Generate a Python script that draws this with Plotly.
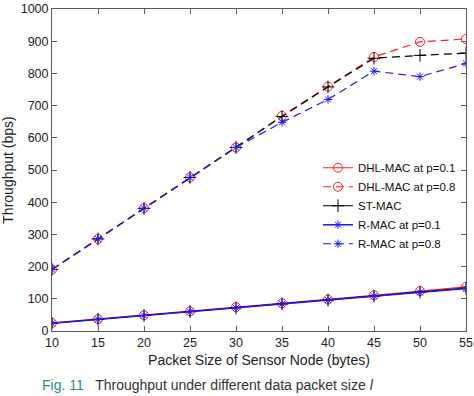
import plotly.graph_objects as go

x = [10, 15, 20, 25, 30, 35, 40, 45, 50, 55]

dhl_p01 = [25, 37, 49, 61, 74, 86, 98, 111, 124, 137]
dhl_p08 = [191, 286, 381, 477, 570, 668, 759, 851, 898, 907]
st_low = [24, 36, 48, 60, 72, 84, 96, 108, 121, 133]
st_high = [191, 286, 381, 477, 570, 666, 758, 847, 856, 863]
rmac_p01 = [24, 36, 48, 60, 72, 84, 96, 108, 120, 132]
rmac_p08 = [191, 286, 381, 477, 570, 648, 719, 807, 790, 831]

x_ticks = [10, 15, 20, 25, 30, 35, 40, 45, 50, 55]
y_ticks = [0, 100, 200, 300, 400, 500, 600, 700, 800, 900, 1000]

RED = "#ff2020"
BLUE = "#1a1aff"
BLACK = "#000000"
FONT = "Liberation Sans, Arial, Helvetica"
DASH = "8px,5px"

fig = go.Figure()

def add(y, name, color, dash, symbol, size, show=True, width=1.2):
    fig.add_trace(go.Scatter(
        x=x, y=y, name=name, mode="lines+markers",
        line=dict(color=color, dash=dash, width=width),
        marker=dict(symbol=symbol, size=size, color=color,
                    line=dict(color=color, width=1)),
        showlegend=show,
    ))

add(dhl_p01, "DHL-MAC at p=0.1", RED, "solid", "circle-open", 9)
add(dhl_p08, "DHL-MAC at p=0.8", RED, DASH, "circle-open", 9)
add(st_low, "ST-MAC", BLACK, "solid", "cross-thin-open", 9)
add(st_high, "ST-MAC", BLACK, DASH, "cross-thin-open", 9, show=False)
add(rmac_p01, "R-MAC at p=0.1", BLUE, "solid", "asterisk-open", 7, width=1.6)
add(rmac_p08, "R-MAC at p=0.8", BLUE, DASH, "asterisk-open", 7)

axis_common = dict(
    showline=True, linecolor="#5a5a5a", linewidth=1, mirror="ticks",
    ticks="inside", ticklen=5, tickcolor="#5a5a5a", showgrid=False,
    zeroline=False, automargin=False,
    tickfont=dict(family=FONT, size=12.5, color="#222222"),
)

fig.update_layout(
    width=474, height=396,
    margin=dict(l=52, r=8, t=9, b=65, autoexpand=False),
    paper_bgcolor="white", plot_bgcolor="white",
    font=dict(family=FONT, size=13, color="#222222"),
    xaxis=dict(range=[10, 55], tickvals=x_ticks,
               title=dict(text="Packet Size of Sensor Node (bytes)", standoff=6,
                          font=dict(size=14)),
               **axis_common),
    yaxis=dict(range=[0, 1000], tickvals=y_ticks,
               title=dict(text="Throughput (bps)", standoff=28, font=dict(size=14)),
               **axis_common),
    legend=dict(x=0.6425, y=0.552, xanchor="left", yanchor="top",
                bgcolor="rgba(255,255,255,1)", borderwidth=0,
                font=dict(size=11.5, color="#111111"),
                tracegroupgap=0),
    showlegend=True,
)

fig.add_annotation(
    xref="paper", yref="paper", x=-0.03, y=-0.199, xanchor="left", yanchor="bottom",
    text="<span style='color:#2a8a8a'>Fig. 11</span>   Throughput under different data packet size <i>l</i>",
    showarrow=False, font=dict(family=FONT, size=14, color="#333333"),
)

fig.write_html(
    "out.html",
    config={"displayModeBar": False},
    post_script="document.body.style.margin='0';document.body.style.overflow='hidden';",
)
